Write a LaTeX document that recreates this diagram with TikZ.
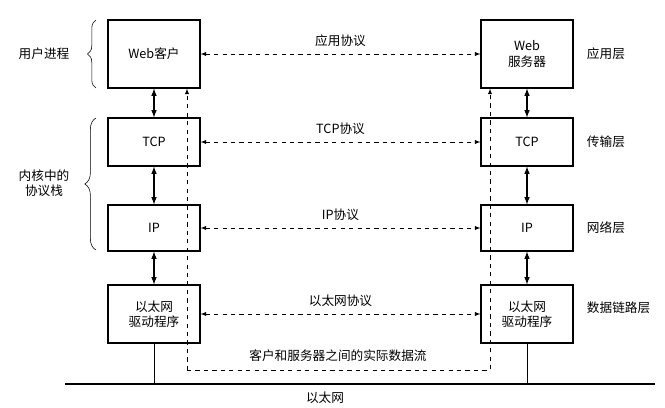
\documentclass[tikz,border=0pt]{standalone}
\usepackage{fontspec}
\setmainfont{Liberation Serif}
\newfontfamily\cjk{Noto Sans CJK SC}
\usetikzlibrary{decorations.pathreplacing}
\tikzset{
  layerbox/.style={draw, thick, minimum width=2.3cm, align=center, font=\cjk\small},
  peer/.style={<->, dashed},
  updown/.style={<->, thick},
  lbl/.style={font=\cjk\small, align=center},
}
\begin{document}
\begin{tikzpicture}[>=latex, x=0.025cm, y=-0.025cm]
	\useasboundingbox (0,0) rectangle (665,408);

	% left column
	\node[layerbox, minimum height=1.7cm]  (wc)   at (154,54)  {Web客户};
	\node[layerbox, minimum height=1.2cm]  (tcpl) at (154,142) {TCP};
	\node[layerbox, minimum height=1.15cm] (ipl)  at (154,228) {IP};
	\node[layerbox, minimum height=1.45cm] (ethl) at (154,314) {以太网\\驱动程序};

	% right column
	\node[layerbox, minimum height=1.7cm]  (ws)   at (527,54)  {Web\\服务器};
	\node[layerbox, minimum height=1.2cm]  (tcpr) at (527,142) {TCP};
	\node[layerbox, minimum height=1.15cm] (ipr)  at (527,228) {IP};
	\node[layerbox, minimum height=1.45cm] (ethr) at (527,314) {以太网\\驱动程序};

	% stacks
	\foreach \a/\b in {wc/tcpl,tcpl/ipl,ipl/ethl,ws/tcpr,tcpr/ipr,ipr/ethr}
		\draw[updown] (\a.south) -- (\b.north);

	% peer protocols
	\draw[peer] (wc.east)   -- (ws.west)   node[lbl, pos=.5, above=2pt] {应用协议};
	\draw[peer] (tcpl.east) -- (tcpr.west) node[lbl, pos=.5, above=2pt] {TCP协议};
	\draw[peer] (ipl.east)  -- (ipr.west)  node[lbl, pos=.5, above=2pt] {IP协议};
	\draw[peer] (ethl.east) -- (ethr.west) node[lbl, pos=.5, above=2pt] {以太网协议};

	% actual data flow
	\coordinate (fl) at (187,370);
	\coordinate (fr) at (490,370);
	\draw[->, dashed] (fl) -- (fl |- wc.south);
	\draw[->, dashed] (fl) -- (fr) -- (fr |- ws.south);
	\node[lbl] (flow) at (338,356) {客户和服务器之间的实际数据流};

	% ethernet
	\coordinate (el) at (65,384);
	\coordinate (er) at (655,384);
	\draw[line width=2pt] (el) -- (er);
	\draw (ethl.south) -- (ethl.south |- el);
	\draw (ethr.south) -- (ethr.south |- el);
	\node[lbl] (eth) at (325,398) {以太网};

	% braces
	\draw[decorate, decoration={brace, amplitude=6pt}] (96,88) -- (96,20);
	\draw[decorate, decoration={brace, amplitude=8pt}] (96,250) -- (96,118);
	\node[lbl] (up) at (44,54)  {用户进程};
	\node[lbl] (ks) at (44,183) {内核中的\\协议栈};

	% layer names
	\node[lbl, anchor=west] (l4) at (582,54)  {应用层};
	\node[lbl, anchor=west] (l3) at (582,142) {传输层};
	\node[lbl, anchor=west] (l2) at (582,228) {网络层};
	\node[lbl, anchor=west] (l1) at (582,308) {数据链路层};
\end{tikzpicture}
\end{document}
